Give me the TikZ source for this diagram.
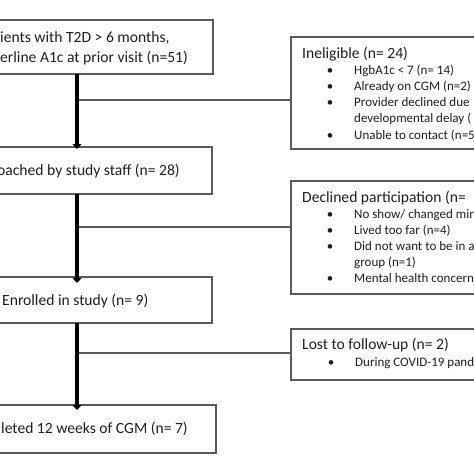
\documentclass[tikz,border=0pt]{standalone}
\usepackage{fontspec}
\setmainfont{Carlito}
\usetikzlibrary{arrows.meta}
\definecolor{boxgray}{HTML}{5A5A5A}
\definecolor{txt}{HTML}{1E1E1E}
\begin{document}
\begin{tikzpicture}[x=1pt,y=-1pt,
  box/.style={draw=boxgray,line width=1.4pt,inner sep=0pt,outer sep=0pt,anchor=north west,fill=white},
  big/.style={inner sep=0pt,anchor=base west,text=txt,font=\fontsize{15.6}{18}\selectfont},
  small/.style={inner sep=0pt,anchor=base west,text=txt,font=\fontsize{13}{16}\selectfont},
  bul/.style={inner sep=0pt,anchor=base,text=txt,font=\fontsize{13}{16}\selectfont},
  arr/.style={line width=3.4pt,black,-{Triangle[width=9pt,length=5pt]}},
  branch/.style={draw=boxgray,line width=1.3pt}]
\useasboundingbox (0,0) rectangle (474,474);
\clip (0,0) rectangle (474,474);
\fill[white] (0,0) rectangle (474,474);

% left boxes
\node[box,minimum width=233pt,minimum height=54pt] (b1) at (-20,20) {};
\node[box,minimum width=232pt,minimum height=47pt] (b2) at (-20,147) {};
\node[box,minimum width=232pt,minimum height=46pt] (b3) at (-20,277) {};
\node[box,minimum width=236pt,minimum height=48pt] (b4) at (-20,405) {};

% right boxes
\node[box,minimum width=200pt,minimum height=112pt] (inel) at (291,37) {};
\node[box,minimum width=200pt,minimum height=113pt] (decl) at (291,181) {};
\node[box,minimum width=200pt,minimum height=51pt] (lost) at (291,329) {};

% spine and branches
\coordinate (sx) at (77,0);
\coordinate (br1) at (77,100);
\coordinate (br2) at (77,227);
\coordinate (br3) at (77,353);
\draw[branch] (br1) -- (br1 -| inel.west);
\draw[branch] (br2) -- (br2 -| decl.west);
\draw[branch] (br3) -- (br3 -| lost.west);
\draw[arr] (b1.south -| sx) -- ([yshift=-2pt]b2.north -| sx);
\draw[arr] (b2.south -| sx) -- ([yshift=-6pt]b3.north -| sx);
\draw[arr] (b3.south -| sx) -- ([yshift=-5pt]b4.north -| sx);

% left texts
\node[big] (t1a) at (0,42) {ients with T2D > 6 months,};
\node[big] (t1b) at (0,62) {erline A1c at prior visit (n=51)};
\node[big] (t2) at (-3,175) {oached by study staff (n= 28)};
\node[big] (t3) at (2,305) {Enrolled in study (n= 9)};
\node[big] (t4) at (1,433) {leted 12 weeks of CGM (n= 7)};

% Ineligible
\node[big] (ih) at (302,58) {Ineligible (n= 24)};
\node[bul] (ib1) at (330,74) {•};
\node[small] (i1) at (354,74) {HgbA1c < 7 (n= 14)};
\node[bul] (ib2) at (330,90.3) {•};
\node[small] (i2) at (354,90.3) {Already on CGM (n=2)};
\node[bul] (ib3) at (330,106.5) {•};
\node[small] (i3) at (354,106.5) {Provider declined due};
\node[small] (i3b) at (354,122.8) {developmental delay (};
\node[bul] (ib4) at (330,139) {•};
\node[small] (i4) at (354,139) {Unable to contact (n=5};

% Declined
\node[big] (dh) at (302,202) {Declined participation (n=};
\node[bul] (db1) at (330,218) {•};
\node[small] (d1) at (354,218) {No show/ changed min};
\node[bul] (db2) at (330,234) {•};
\node[small] (d2) at (354,234) {Lived too far (n=4)};
\node[bul] (db3) at (330,250) {•};
\node[small] (d3) at (354,250) {Did not want to be in a};
\node[small] (d3b) at (354,266) {group (n=1)};
\node[bul] (db4) at (330,282) {•};
\node[small] (d4) at (354,282) {Mental health concern};

% Lost
\node[big] (lh) at (302,349) {Lost to follow-up (n= 2)};
\node[bul] (lb1) at (331,366) {•};
\node[small] (l1) at (355,366) {During COVID-19 pand};
\end{tikzpicture}
\end{document}
